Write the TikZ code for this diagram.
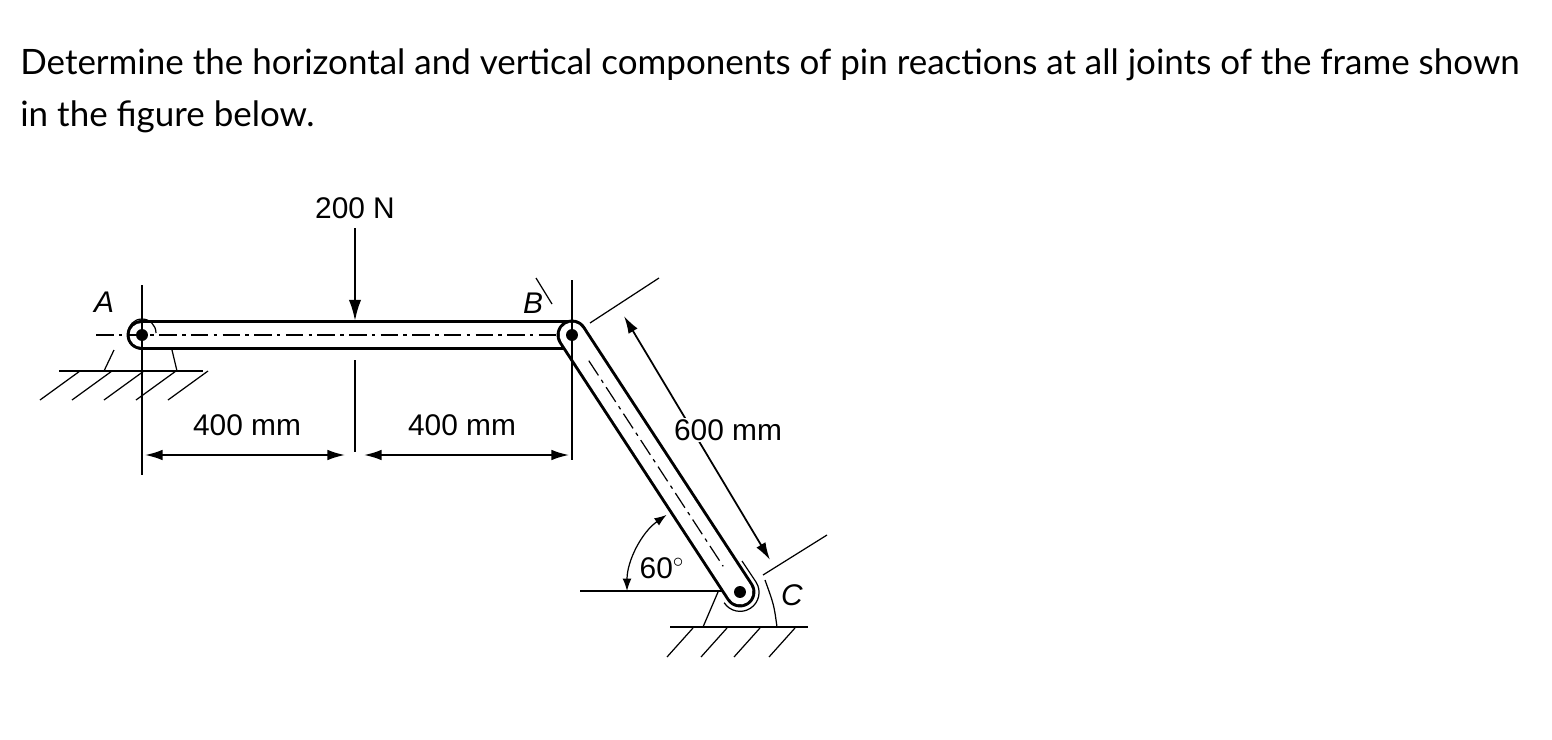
\documentclass[tikz,border=0pt]{standalone}
\usepackage{fontspec}
\setmainfont{Lato}
\newfontfamily\figfont{Liberation Sans}
\usetikzlibrary{arrows.meta,calc}
\begin{document}
\begin{tikzpicture}[x=0.02cm,y=-0.02cm,
  thin line/.style={line width=0.7pt},
  ctr/.style={line width=0.7pt,dash pattern=on 10pt off 3pt on 2pt off 3pt},
  dim/.style={line width=1pt,{Latex[length=10pt,width=6pt]}-{Latex[length=10pt,width=6pt]}},
  lbl/.style={font=\figfont\fontsize{17}{17}\selectfont,inner sep=1pt},
  pin/.style={circle,fill=black,inner sep=0pt,minimum size=12*0.5669pt}]
\useasboundingbox (0,0) rectangle (1552,740);
\node[anchor=base west,inner sep=0,font=\fontsize{19.9}{19.9}\selectfont] (t1) at (20,75) {Determine the horizontal and vertical components of pin reactions at all joints of the frame shown};
\node[anchor=base west,inner sep=0,font=\fontsize{19.9}{19.9}\selectfont] (t2) at (20,127) {in the figure below.};
\coordinate (A) at (142,335);
\coordinate (B) at (572,335);
\coordinate (C) at (740,592);
% support A
\draw[thin line] (114,350) -- (104,371) (172,350) -- (177,371);
\draw[line width=1.2pt] (59,371) -- (203,371);
\foreach \x in {80,112,144,176,208} \draw[thin line] (\x,371) -- (\x-40,400);
% beam AB
\draw[line width=28*0.5669pt+1.7pt,line cap=round] (A) -- (B);
\draw[white,line width=28*0.5669pt-1.7pt,line cap=round] (A) -- (B);
\draw[thin line] (128,333) arc (180:360:14);
% member BC
\draw[line width=28*0.5669pt+1.7pt,line cap=round] (B) -- (C);
\draw[white,line width=28*0.5669pt-1.7pt,line cap=round] (B) -- (C);
\draw[ctr] (96,335) -- (560,335);
\draw[ctr] ($(B)!0.1!(C)$) -- ($(B)!0.9!(C)$);
\draw[thin line] (C) ++(16,-10) arc (-33:147:19);
\draw[thin line] (C) ++(16,-10) -- ++(-14,-21);
% extension lines
\draw[thin line] (142,285) -- (142,475);
\draw[thin line] (572,280) -- (572,460);
\draw[thin line] (355,360) -- (355,452);
\draw[thin line] (536,278) -- (552,304);
\draw[thin line] (590,323) -- (659,278);
\draw[thin line] (763,575) -- (827,535);
% load
\draw[line width=1.3pt,-{Latex[length=12pt,width=7pt]}] (355,228) -- (355,321);
\node[lbl] (f) at (355,208) {200 N};
% dimensions
\draw[dim] (145,455) -- (345,455);
\draw[dim] (364,455) -- (569,455);
\node[lbl] (d1) at (247,425) {400 mm};
\node[lbl] (d2) at (462,425) {400 mm};
\draw[dim] (624,316) -- (770,560);
\node[lbl,fill=white] (d3) at (728,430) {600 mm};
% support C
\draw[thin line] (703,627) -- (718,592);
\draw[thin line] (777,627) .. controls (774,605) .. (765,580);
\draw[line width=1.2pt] (670,627) -- (808,627);
\foreach \x in {693,727,760,795} \draw[thin line] (\x,628) -- (\x-26,657);
\draw[line width=1.2pt] (580,591) -- (722,591);
\draw[thin line,{Latex[length=7pt,width=5pt]}-{Latex[length=7pt,width=5pt]}] (627,591) arc (180:235:93);
\node[lbl] (ang) at (662,568) {60$^{\circ}$};
\node[lbl] (lc) at (792,595) {\itshape C};
\node[lbl] (la) at (104,302) {\itshape A};
\node[lbl] (lb) at (533,303) {\itshape B};
\node[pin] (pa) at (A) {};
\node[pin] (pb) at (B) {};
\node[pin] (pc) at (C) {};
\end{tikzpicture}
\end{document}
